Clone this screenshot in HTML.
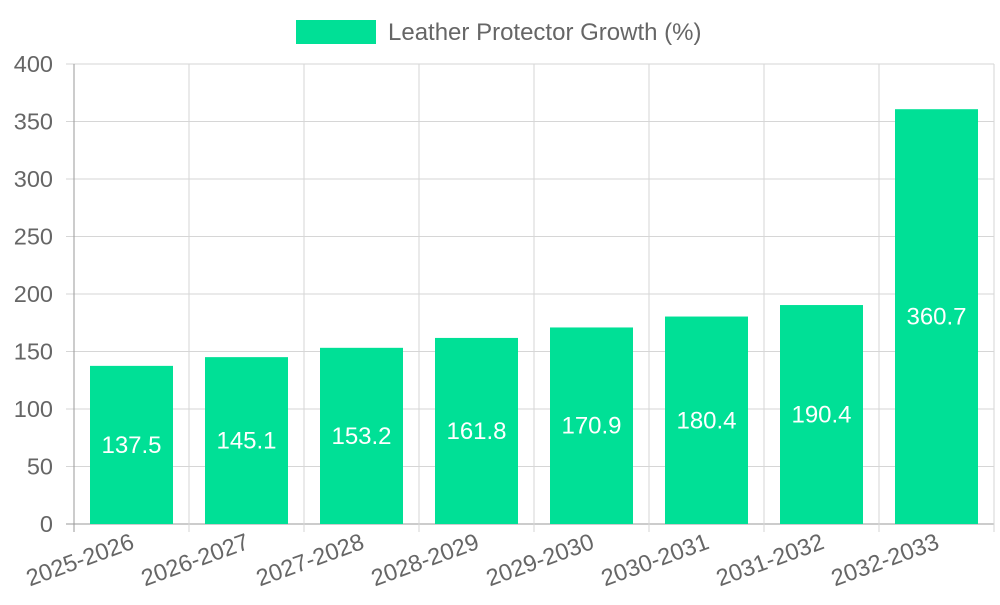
<!DOCTYPE html>
<html><head><meta charset="utf-8"><style>
body{margin:0;background:#fff;font-family:"Liberation Sans",sans-serif}
</style></head><body>
<svg id="chart" width="1000" height="600" xmlns="http://www.w3.org/2000/svg" font-family="Liberation Sans, sans-serif">
<g>
<rect x="296" y="20" width="80" height="24" fill="#00e096"/>
<text x="388" y="40" font-size="24" fill="#666">Leather Protector Growth (%)</text>
</g>
<g id="grid"></g><g id="bars"></g><g id="labels"></g>
</svg>
<script>
const categories=["2025-2026","2026-2027","2027-2028","2028-2029","2029-2030","2030-2031","2031-2032","2032-2033"];
const values=[137.5,145.1,153.2,161.8,170.9,180.4,190.4,360.7];
const yTicks=[0,50,100,150,200,250,300,350,400];
const NS="http://www.w3.org/2000/svg";
const L=74,R=994,T=64,B=524,yMax=400;
const step=(R-L)/categories.length;
const y=v=>B-(v/yMax)*(B-T);
const x=i=>L+i*step;
function mk(tag,attrs,parent){const e=document.createElementNS(NS,tag);for(const k in attrs)e.setAttribute(k,attrs[k]);parent.appendChild(e);return e;}
const grid=document.getElementById('grid'),bars=document.getElementById('bars'),labels=document.getElementById('labels');
yTicks.forEach(t=>{
  const g=mk('line',{x1:66,x2:R,y1:y(t),y2:y(t),stroke:t===0?'#999':'#d6d6d6','stroke-width':1},grid);
  
  
  const tx=mk('text',{x:53,y:y(t)+8,'text-anchor':'end','font-size':23.5,fill:'#666'},grid);
  tx.textContent=t;
  
  
});
for(let i=0;i<=categories.length;i++){
  const g=mk('line',{x1:x(i),x2:x(i),y1:T,y2:B+8,stroke:i===0?'#999':'#d6d6d6','stroke-width':1},grid);
  
  
}
categories.forEach((c,i)=>{
  const cx=x(i)+step/2,bw=83;
  const r=mk('rect',{x:cx-bw/2,y:y(values[i]),width:bw,height:B-y(values[i]),fill:'#00e096'},bars);
  
  
  const v=mk('text',{x:cx,y:(y(values[i])+B)/2+8,'text-anchor':'middle','font-size':24,fill:'#fff'},labels);
  v.textContent=values[i];
  
  
  const xl=mk('text',{x:cx+4,y:B+24,'text-anchor':'end','font-size':23.5,fill:'#666',transform:`rotate(-20 ${cx+4} ${B+24})`},labels);
  xl.textContent=c;
  
  
});
</script>
</body></html>
